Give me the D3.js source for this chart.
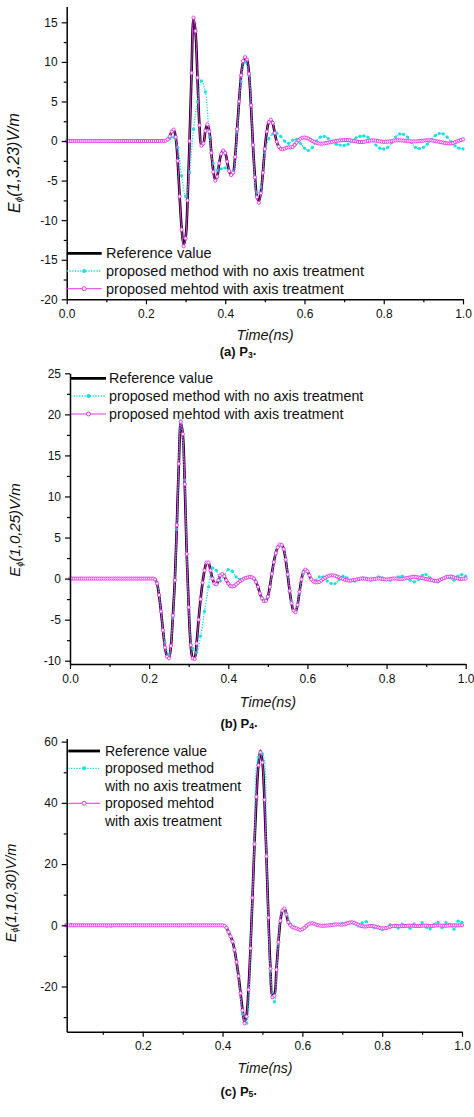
<!DOCTYPE html>
<html><head><meta charset="utf-8">
<script src="https://cdn.jsdelivr.net/npm/d3@7"></script>
<style>
body{margin:0;background:#fff}
svg{display:block}
text{font-family:"Liberation Sans",Arial,Helvetica,sans-serif;fill:#111}
</style>
</head><body>
<svg id="chart" width="474" height="1117"></svg>
<script>
// ---------- data ----------
// fine grid (0.005 ns) for the reference and the axis-treatment curves
const timeFine = d3.range(0, 201).map(i => +(i * 0.005).toFixed(3));
// coarse grid (0.01 ns) for the no-axis-treatment curve
const timeCoarse = d3.range(0, 101).map(i => +(i * 0.01).toFixed(2));

const xMajorTicks = [0, 0.2, 0.4, 0.6, 0.8, 1.0];
const xMinorTicks = [0.1, 0.3, 0.5, 0.7, 0.9];
const xMajorTicksC = [0.2, 0.4, 0.6, 0.8, 1.0];
const yMajorA = [-20, -15, -10, -5, 0, 5, 10, 15];
const yMinorA = [-17.5, -12.5, -7.5, -2.5, 2.5, 7.5, 12.5];
const yMajorB = [-10, -5, 0, 5, 10, 15, 20, 25];
const yMinorB = [-7.5, -2.5, 2.5, 7.5, 12.5, 17.5, 22.5];
const yMajorC = [-20, 0, 20, 40, 60];
const yMinorC = [-30, -10, 10, 30, 50];

const legendAB = [["Reference value"], ["proposed method with no axis treatment"], ["proposed mehtod with axis treatment"]];
const legendC = [["Reference value"], ["proposed method", "with no axis treatment"], ["proposed mehtod", "with axis treatment"]];

// Panel (a) P3
const refA = [
0,0,0,0,0,0,0,0,0,0,
0,0,0,0,0,0,0,0,0,0,
0,0,0,0,0,0,0,0,0,0,
0,0,0,0,0,0,0,0,0,0,
0,0,0,0,0,0,0,0,0,0,
0.05,0.2,0.6,1.2,1.4,0.5,-2.5,-7,-11,-13.1,
-12.2,-7.5,0,8.5,15.4,13.8,8,2,-0.6,-0.3,
1.3,2.1,1.2,-1.5,-3.8,-4.9,-4.4,-2.8,-1.6,-1.2,
-1.5,-2.6,-3.8,-4.3,-4,-2,1.5,5,8.2,9.9,
10.4,10.2,8.5,4.5,-0.5,-4.5,-7,-7.6,-6.5,-4,
-1,1.2,2.4,2.6,2.2,1,-0.1,-0.7,-1,-1.05,
-0.95,-0.85,-0.8,-0.8,-0.75,-0.5,-0.2,0.1,0.3,0.42,
0.45,0.4,0.3,0.15,0,-0.12,-0.22,-0.3,-0.33,-0.33,
-0.3,-0.25,-0.2,-0.15,-0.1,-0.05,0,0.05,0.08,0.1,
0.12,0.12,0.12,0.1,0.05,0,-0.05,-0.1,-0.12,-0.12,
-0.1,-0.05,0,0.05,0.08,0.08,0.05,0,-0.05,-0.08,
-0.1,-0.1,-0.08,-0.05,0,0.05,0.08,0.1,0.1,0.08,
0.05,0.02,0,-0.02,-0.05,-0.05,-0.05,-0.02,0,0.02,
0.05,0.08,0.1,0.1,0.08,0.05,0,-0.05,-0.1,-0.15,
-0.2,-0.25,-0.28,-0.3,-0.3,-0.25,-0.15,-0.05,0.05,0.12,
0.2];
const axisA = [
0,0,0,0,0,0,0,0,0,0,
0,0,0,0,0,0,0,0,0,0,
0,0,0,0,0,0,0,0,0,0,
0,0,0,0,0,0,0,0,0,0,
0,0,0,0,0,0,0,0,0,0,
0.05,0.2,0.6,1.2,1.45,0.5,-2.5,-7,-11.2,-13.3,
-12.3,-7.5,0,8.6,15.6,13.9,8,2,-0.6,-0.3,
1.3,2.1,1.2,-1.5,-3.9,-5,-4.5,-2.8,-1.6,-1.2,
-1.5,-2.6,-3.8,-4.3,-4,-2,1.5,5,8.3,10.1,
10.6,10.3,8.5,4.5,-0.5,-4.6,-7.1,-7.8,-6.6,-4,
-1,1.2,2.4,2.7,2.3,1,-0.1,-0.7,-1,-1.05,
-0.95,-0.85,-0.8,-0.8,-0.75,-0.5,-0.2,0.1,0.3,0.42,
0.45,0.4,0.3,0.15,0,-0.12,-0.22,-0.3,-0.33,-0.33,
-0.3,-0.25,-0.2,-0.15,-0.1,-0.05,0,0.05,0.08,0.1,
0.12,0.12,0.12,0.1,0.05,0,-0.05,-0.1,-0.12,-0.12,
-0.1,-0.05,0,0.05,0.08,0.08,0.05,0,-0.05,-0.08,
-0.1,-0.1,-0.08,-0.05,0,0.05,0.08,0.1,0.1,0.08,
0.05,0.02,0,-0.02,-0.05,-0.05,-0.05,-0.02,0,0.02,
0.05,0.08,0.1,0.1,0.08,0.05,0,-0.05,-0.1,-0.15,
-0.2,-0.25,-0.28,-0.3,-0.3,-0.25,-0.15,-0.05,0.05,0.12,
0.2];
const noAxisA = [
0,0,0,0,0,0,0,0,0,0,
0,0,0,0,0,0,0,0,0,0,
0,0,0,0,0,0.05,0.3,0.5,-0.8,-4.4,
-7,-4,1.5,5,7.6,6.2,0.5,-2.8,-3.7,-3.5,
-3.4,-3.7,-3.8,1.2,7.5,10,8.3,-0.5,-6.5,-5.8,
-1.5,0.3,0.9,1,0.6,0,-0.3,0.1,0.2,-0.3,
-0.9,-1.2,-0.8,0,0.5,0.6,0.3,-0.1,-0.4,-0.5,
-0.55,-0.4,0,0.4,0.6,0.65,0.5,0.1,-0.5,-0.9,
-1,-0.8,-0.2,0.5,0.9,0.85,0.5,-0.2,-0.8,-0.95,
-0.8,-0.4,0.2,0.7,0.95,0.9,0.5,-0.1,-0.6,-0.9,
-1];

// Panel (b) P4
const refB = [
0,0,0,0,0,0,0,0,0,0,
0,0,0,0,0,0,0,0,0,0,
0,0,0,0,0,0,0,0,0,0,
0,0,0,0,0,0,0,0,0,0,
0,0,0,-0.1,-0.6,-2,-4,-6.3,-8.3,-9.4,
-9.6,-8.2,-4.5,-0.2,6.5,14,19,17.6,11.5,3,
-3.5,-8,-9.6,-9.6,-7.8,-5,-2.5,-0.5,1,1.9,
1.9,1,0,-0.6,-0.7,-0.2,0.4,0.55,0.3,-0.2,
-0.6,-0.9,-0.95,-0.9,-0.7,-0.5,-0.3,-0.15,0,0.1,
0.15,0.2,0.15,0,-0.4,-1,-1.8,-2.4,-2.7,-2.7,
-2.2,-1,0.6,2,3.1,3.8,4.1,4.1,3.6,2.3,
0.5,-1.5,-3,-3.9,-4,-3.2,-1.6,-0.1,0.8,1.1,
0.9,0.4,-0.1,-0.35,-0.45,-0.45,-0.4,-0.25,-0.05,0.1,
0.25,0.35,0.4,0.4,0.35,0.25,0.15,0.05,-0.05,-0.15,
-0.2,-0.25,-0.25,-0.2,-0.15,-0.1,-0.05,0,0,0,
-0.05,-0.1,-0.1,-0.08,-0.05,0,0.02,0,-0.05,-0.08,
-0.1,-0.08,-0.05,0,0.02,0,-0.03,-0.05,-0.03,0,
0.05,0.1,0.15,0.2,0.22,0.2,0.15,0.1,0.05,0,
-0.05,-0.1,-0.15,-0.2,-0.25,-0.28,-0.25,-0.15,-0.05,0.05,
0.15,0.22,0.25,0.22,0.15,0.05,0,-0.03,-0.03,0,
0];
const axisB = [
0,0,0,0,0,0,0,0,0,0,
0,0,0,0,0,0,0,0,0,0,
0,0,0,0,0,0,0,0,0,0,
0,0,0,0,0,0,0,0,0,0,
0,0,0,-0.1,-0.6,-2,-4,-6.3,-8.4,-9.5,
-9.7,-8.2,-4.5,-0.2,6.5,14,19.1,17.6,11.5,3,
-3.5,-8.1,-9.7,-9.8,-7.9,-5,-2.5,-0.5,1,1.95,
1.95,1,0,-0.6,-0.7,-0.2,0.4,0.55,0.3,-0.2,
-0.6,-0.9,-0.95,-0.9,-0.7,-0.5,-0.3,-0.15,0,0.1,
0.15,0.2,0.15,0,-0.4,-1,-1.8,-2.4,-2.75,-2.7,
-2.2,-1,0.6,2,3.1,3.8,4.15,4.1,3.6,2.3,
0.5,-1.5,-3,-3.9,-4.1,-3.2,-1.6,-0.1,0.8,1.1,
0.9,0.4,-0.1,-0.35,-0.45,-0.45,-0.4,-0.25,-0.05,0.1,
0.25,0.35,0.4,0.4,0.35,0.25,0.15,0.05,-0.05,-0.15,
-0.2,-0.25,-0.25,-0.2,-0.15,-0.1,-0.05,0,0,0,
-0.05,-0.1,-0.1,-0.08,-0.05,0,0.02,0,-0.05,-0.08,
-0.1,-0.08,-0.05,0,0.02,0,-0.03,-0.05,-0.03,0,
0.05,0.1,0.15,0.2,0.22,0.2,0.15,0.1,0.05,0,
-0.05,-0.1,-0.15,-0.2,-0.25,-0.28,-0.25,-0.15,-0.05,0.05,
0.15,0.22,0.25,0.22,0.15,0.05,0,-0.03,-0.03,0,
0];
const noAxisB = [
0,0,0,0,0,0,0,0,0,0,
0,0,0,0,0,0,0,0,0,0,
0,0,-0.6,-4,-7.8,-9.3,-4.8,6,19.2,12,
-3.5,-8.5,-9,-7,-4,-1,1.3,1,-0.3,0.4,
1.1,0.9,0.2,-0.1,0,0.1,0.1,-0.4,-1.8,-2.6,
-2.2,0.5,3,4,3.6,0.6,-2.8,-3.9,-1.8,0.6,
0.9,0,-0.2,0.2,0.2,-0.3,-0.6,-0.6,-0.1,0.3,
0.1,-0.2,-0.3,-0.1,0.1,0,-0.2,-0.1,0.2,0.1,
-0.1,-0.2,0,0.2,0.3,0.1,-0.2,-0.4,-0.1,0.4,
0.5,0.1,-0.3,-0.4,-0.1,0.2,0.1,-0.2,0.3,0.5,
0.3];

// Panel (c) P5
const refC = [
0,0,0,0,0,0,0,0,0,0,
0,0,0,0,0,0,0,0,0,0,
0,0,0,0,0,0,0,0,0,0,
0,0,0,0,0,0,0,0,0,0,
0,0,0,0,0,0,0,0,0,0,
0,0,0,0,0,0,0,0,0,0,
0,0,0,0,0,0,0,0,0,0,
0,0,0,0,0,0,0,0,0,0,
0,-0.2,-0.8,-2.2,-3.6,-5.3,-8,-12,-16.5,-22,
-27.5,-31.5,-29.5,-21,-7.5,9,26.5,42,52.5,57,
53.5,41,22.5,2.5,-14,-23,-22.5,-14.5,-5.5,1.5,
4.8,5.5,3.5,1,0,-0.6,-0.8,-1,-1.3,-1.5,
-1.3,-0.8,-0.2,0.3,0.6,0.65,0.45,0.2,0,-0.1,
-0.15,-0.15,-0.1,-0.05,0,0.1,0.2,0.3,0.3,0.25,
0.2,0.3,0.5,0.75,0.95,1,0.8,0.5,0.2,-0.1,
-0.3,-0.4,-0.4,-0.3,-0.2,-0.2,-0.3,-0.5,-0.7,-0.9,
-1,-1,-0.9,-0.7,-0.5,-0.3,-0.2,-0.2,-0.25,-0.3,
-0.3,-0.25,-0.2,-0.1,-0.1,-0.15,-0.2,-0.25,-0.25,-0.2,
-0.15,-0.1,-0.1,-0.15,-0.2,-0.2,-0.15,-0.1,-0.05,-0.05,
-0.1,-0.15,-0.15,-0.1,-0.05,0,0,-0.05,-0.05,0,
0];
const axisC = [
0,0,0,0,0,0,0,0,0,0,
0,0,0,0,0,0,0,0,0,0,
0,0,0,0,0,0,0,0,0,0,
0,0,0,0,0,0,0,0,0,0,
0,0,0,0,0,0,0,0,0,0,
0,0,0,0,0,0,0,0,0,0,
0,0,0,0,0,0,0,0,0,0,
0,0,0,0,0,0,0,0,0,0,
0,-0.2,-0.8,-2.2,-3.6,-5.3,-8,-12,-16.6,-22.2,
-27.8,-32,-29.8,-21,-7.5,9,26.5,42,52.3,56.5,
53.2,41,22.5,2.5,-14.2,-23.5,-23,-14.5,-5.5,1.5,
4.8,5.5,3.5,1,0,-0.6,-0.8,-1,-1.3,-1.5,
-1.3,-0.8,-0.2,0.3,0.6,0.65,0.45,0.2,0,-0.1,
-0.15,-0.15,-0.1,-0.05,0,0.1,0.2,0.3,0.3,0.25,
0.2,0.3,0.5,0.75,0.95,1,0.8,0.5,0.2,-0.1,
-0.3,-0.4,-0.4,-0.3,-0.2,-0.2,-0.3,-0.5,-0.7,-0.9,
-1,-1,-0.9,-0.7,-0.5,-0.3,-0.2,-0.2,-0.25,-0.3,
-0.3,-0.25,-0.2,-0.1,-0.1,-0.15,-0.2,-0.25,-0.25,-0.2,
-0.15,-0.1,-0.1,-0.15,-0.2,-0.2,-0.15,-0.1,-0.05,-0.05,
-0.1,-0.15,-0.15,-0.1,-0.05,0,0,-0.05,-0.05,0,
0];
const noAxisC = [
0,0,0.3,0,0,0.2,0,0,0,0,
0,-0.3,-0.3,0,0,0,0,0,0.2,0,
0,0,0,0,0,0,0,0,0,-0.2,
0,0,0.2,0,0,0,0,0,0,0,
0,-0.8,-3.5,-8,-16.5,-29,-32,-7.5,27,55,
56,23,-15,-25,-6,5,4,0.5,-0.6,-1.2,
-1.4,-0.4,0.6,0.5,0,-0.2,-0.1,0.2,0.4,0.3,
0.6,0.7,0.9,0.5,-0.2,0.8,1.2,-0.3,-0.8,-0.5,
-1.4,-1,0.2,-0.3,-0.9,0.4,-0.2,-1,0.5,-0.4,
0.9,-0.6,-1.2,0.3,1,-0.8,0.9,0.2,-1.3,1.4,
1];

// ---------- drawing ----------
const COL_REF = "#000000", COL_CYAN = "#19e0e0", COL_MAG = "#f030f0";
const svg = d3.select("#chart");

const panels = [
  {id:"a", ref:refA, axis:axisA, noAxis:noAxisA,
   xDomain:[0,1], left:66.7, right:463, yDomain:[-20,17], top:6.5, bottom:299.3,
   xMajor:xMajorTicks, xMinor:xMinorTicks, yMajor:yMajorA, yMinor:yMinorA,
   ylabel:["(1,3,23)V/m"], ylabX:14, ylabY:163, ylabSize:16,
   xlabX:265, xlabY:335, xlabSize:14.5, title:["(a) P","3","."], titleX:238, titleY:351.5,
   legend:legendAB, legX0:66.7, legX1:101.7, legTX:106, legY:[253.3,271,288.7], legSize:14.5, legLH:17.4},
  {id:"b", ref:refB, axis:axisB, noAxis:noAxisB,
   xDomain:[0,1], left:70, right:465.7, yDomain:[-10.4,25], top:373.3, bottom:664,
   xMajor:xMajorTicks, xMinor:xMinorTicks, yMajor:yMajorB, yMinor:yMinorB,
   ylabel:["(1,0,25)V/m"], ylabX:15, ylabY:530, ylabSize:15,
   xlabX:268, xlabY:701.7, xlabSize:14.3, title:["(b) P","4","."], titleX:239, titleY:723,
   legend:legendAB, legX0:71, legX1:106, legTX:109, legY:[378.3,396,414], legSize:14.3, legLH:17.4},
  {id:"c", ref:refC, axis:axisC, noAxis:noAxisC,
   xDomain:[0.0095,1], left:66.7, right:462, yDomain:[-34.8,61], top:738.6, bottom:1031.8,
   xMajor:xMajorTicksC, xMinor:xMinorTicks, yMajor:yMajorC, yMinor:yMinorC,
   ylabel:["(1,10,30)V/m"], ylabX:11, ylabY:893, ylabSize:14.5,
   xlabX:265, xlabY:1068, xlabSize:14, title:["(c) P","5","."], titleX:238.7, titleY:1091,
   legend:legendC, legX0:68.3, legX1:100, legTX:105, legY:[751,768.3,803.3], legSize:14, legLH:17.4}
];

const fmtX = d => d.toFixed(1);
const fmtY = d => String(d);

panels.forEach(p => {
  const x = d3.scaleLinear().domain(p.xDomain).range([p.left, p.right]);
  const y = d3.scaleLinear().domain(p.yDomain).range([p.bottom, p.top]);
  const g = svg.append("g");

  const clipId = "clip-" + p.id;
  svg.append("clipPath").attr("id", clipId).append("rect")
    .attr("x", p.left - 2).attr("y", p.top - 4)
    .attr("width", p.right - p.left + 6).attr("height", p.bottom - p.top + 4);

  const plot = g.append("g").attr("clip-path", `url(#${clipId})`);
  const line = d3.line().x(d => x(d[0])).y(d => y(d[1])).curve(d3.curveCatmullRom.alpha(0.5));

  const refPts = p.ref.map((v, i) => [timeFine[i], v]);
  const axPts = p.axis.map((v, i) => [timeFine[i], v]);
  const naPts = p.noAxis.map((v, i) => [timeCoarse[i], v]);

  plot.append("path").attr("d", line(refPts)).attr("fill", "none")
    .attr("stroke", COL_REF).attr("stroke-width", 2.6).attr("stroke-linejoin", "round");

  plot.append("path").attr("d", line(naPts)).attr("fill", "none")
    .attr("stroke", COL_CYAN).attr("stroke-width", 1.3).attr("stroke-dasharray", "1.3,1.4");
  plot.selectAll("circle.na").data(naPts).join("circle").attr("class", "na")
    .attr("cx", d => x(d[0])).attr("cy", d => y(d[1])).attr("r", 1.6).attr("fill", COL_CYAN);

  plot.append("path").attr("d", line(axPts)).attr("fill", "none")
    .attr("stroke", COL_MAG).attr("stroke-width", 1);
  plot.selectAll("circle.ax").data(axPts).join("circle").attr("class", "ax")
    .attr("cx", d => x(d[0])).attr("cy", d => y(d[1])).attr("r", 1.6)
    .attr("fill", "#fff").attr("stroke", COL_MAG).attr("stroke-width", 0.9);

  // axes
  g.append("g").attr("transform", `translate(0,${p.bottom})`)
    .call(d3.axisBottom(x).tickValues(p.xMajor).tickSize(5).tickSizeOuter(0).tickPadding(5).tickFormat(fmtX));
  g.append("g").attr("transform", `translate(0,${p.bottom})`)
    .call(d3.axisBottom(x).tickValues(p.xMinor).tickSize(3).tickSizeOuter(0).tickFormat(""))
    .call(s => s.select(".domain").remove());
  g.append("g").attr("transform", `translate(${p.left},0)`)
    .call(d3.axisLeft(y).tickValues(p.yMajor).tickSize(5).tickSizeOuter(0).tickPadding(4).tickFormat(fmtY));
  g.append("g").attr("transform", `translate(${p.left},0)`)
    .call(d3.axisLeft(y).tickValues(p.yMinor).tickSize(3).tickSizeOuter(0).tickFormat(""))
    .call(s => s.select(".domain").remove());
  g.selectAll(".domain").attr("stroke", "#000").attr("stroke-width", 1.5);
  g.selectAll(".tick line").attr("stroke", "#000").attr("stroke-width", 1.2);
  g.selectAll(".tick text").attr("font-size", 12).attr("fill", "#111")
    .attr("font-family", '"Liberation Sans",Arial,sans-serif');

  // y label
  const yl = g.append("text")
    .attr("transform", `translate(${p.ylabX},${p.ylabY}) rotate(-90)`)
    .attr("text-anchor", "middle").attr("dy", "0.35em")
    .attr("font-size", p.ylabSize).attr("font-style", "italic");
  yl.append("tspan").text("E");
  yl.append("tspan").text("ϕ").attr("font-size", p.ylabSize * 0.62).attr("dy", "0.25em");
  yl.append("tspan").text(p.ylabel[0]).attr("dy", "-0.18em");

  // x label
  g.append("text").attr("x", p.xlabX).attr("y", p.xlabY).attr("dy", "0.35em")
    .attr("text-anchor", "middle").attr("font-size", p.xlabSize).attr("font-style", "italic")
    .text("Time(ns)");

  // title
  const t = g.append("text").attr("x", p.titleX).attr("y", p.titleY).attr("dy", "0.35em")
    .attr("text-anchor", "middle").attr("font-size", 13).attr("font-weight", "bold");
  t.append("tspan").text(p.title[0]);
  t.append("tspan").text(p.title[1]).attr("font-size", 8.5).attr("dy", "0.2em");
  t.append("tspan").text(p.title[2]).attr("dy", "-0.2em");

  // legend
  const leg = g.append("g");
  p.legend.forEach((lines, k) => {
    const ly = p.legY[k];
    const xm = (p.legX0 + p.legX1) / 2;
    if (k === 0) {
      leg.append("line").attr("x1", p.legX0).attr("x2", p.legX1).attr("y1", ly).attr("y2", ly)
        .attr("stroke", COL_REF).attr("stroke-width", 2.8);
    } else if (k === 1) {
      leg.append("line").attr("x1", p.legX0).attr("x2", p.legX1).attr("y1", ly).attr("y2", ly)
        .attr("stroke", COL_CYAN).attr("stroke-width", 1.3).attr("stroke-dasharray", "1.3,1.4");
      leg.append("circle").attr("cx", xm).attr("cy", ly).attr("r", 2).attr("fill", COL_CYAN);
    } else {
      leg.append("line").attr("x1", p.legX0).attr("x2", p.legX1).attr("y1", ly).attr("y2", ly)
        .attr("stroke", COL_MAG).attr("stroke-width", 1);
      leg.append("circle").attr("cx", xm).attr("cy", ly).attr("r", 2)
        .attr("fill", "#fff").attr("stroke", COL_MAG).attr("stroke-width", 1);
    }
    lines.forEach((s, j) => {
      leg.append("text").attr("x", p.legTX).attr("y", ly + j * p.legLH).attr("dy", "0.35em")
        .attr("font-size", p.legSize).text(s);
    });
  });
});
</script>
</body></html>
